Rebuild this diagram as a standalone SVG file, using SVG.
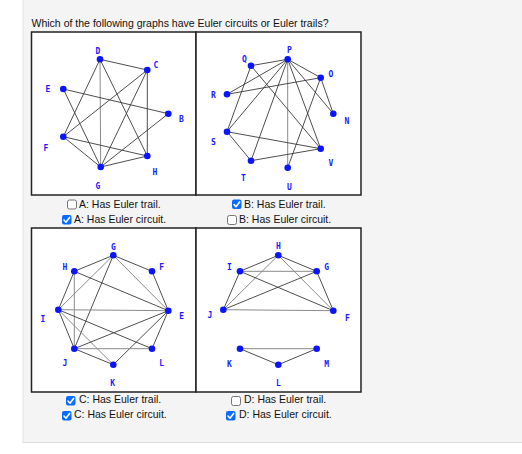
<svg xmlns="http://www.w3.org/2000/svg" width="522" height="454" viewBox="0 0 522 454">
<style>
.bg{fill:#f4f4f4}
.frame{fill:#fff;stroke:#222;stroke-width:1.5}
.e line{stroke:#3a3a3a;stroke-width:0.9}
.e line.g{stroke:#8a8a8a;stroke-width:1}
.n circle{fill:#0a14ff}
.n text{font-family:"DejaVu Sans Mono","Liberation Mono",monospace;font-weight:bold;font-size:8px;fill:#1a1aff;text-anchor:middle}
.t{font-family:"Liberation Sans",Arial,sans-serif;font-size:10.5px;fill:#111}
.cb{fill:#fff;stroke:#767676;stroke-width:1}
.ck{fill:#0a6cff}
.mk{fill:none;stroke:#fff;stroke-width:1.6;stroke-linecap:round;stroke-linejoin:round}
</style>
<defs>
<g id="chk"><rect class="ck" x="0" y="0" width="9.5" height="9.5" rx="2"/><path class="mk" d="M2,5 L4,7.2 L7.6,2.4"/></g>
<rect id="unc" class="cb" x="0.5" y="0.5" width="9" height="9" rx="2"/>
</defs>
<rect x="0" y="0" width="522" height="454" fill="#fff"/>
<rect class="bg" x="23" y="0" width="499" height="442.5"/>
<line x1="23" y1="0" x2="23" y2="443" stroke="#e2e2e2"/>
<line x1="23" y1="442.5" x2="522" y2="442.5" stroke="#dcdcdc"/>
<text class="t" x="31.5" y="27" textLength="297" lengthAdjust="spacingAndGlyphs">Which of the following graphs have Euler circuits or Euler trails?</text>

<g id="frames">
<rect class="frame" x="31.5" y="32" width="164.5" height="163"/>
<rect class="frame" x="196" y="32" width="165" height="163"/>
<rect class="frame" x="31.5" y="228" width="164.5" height="164"/>
<rect class="frame" x="196" y="228" width="165" height="164"/>
</g>

<g id="connectors" class="e">
<!-- Graph A -->
<line x1="100" y1="59.3" x2="147.3" y2="70"/>
<line class="g" x1="100" y1="59.3" x2="100.7" y2="167"/>
<line x1="100" y1="59.3" x2="63.3" y2="136.7"/>
<line x1="100" y1="59.3" x2="147.3" y2="156"/>
<line x1="147.3" y1="70" x2="63.3" y2="136.7"/>
<line x1="147.3" y1="70" x2="147.3" y2="156"/>
<line x1="147.3" y1="70" x2="100.7" y2="167"/>
<line x1="63.3" y1="89" x2="168.3" y2="113.7"/>
<line x1="63.3" y1="89" x2="100.7" y2="167"/>
<line x1="168.3" y1="113.7" x2="100.7" y2="167"/>
<line x1="63.3" y1="136.7" x2="100.7" y2="167"/>
<line x1="63.3" y1="136.7" x2="147.3" y2="156"/>
<line x1="100.7" y1="167" x2="147.3" y2="156"/>
<!-- Graph B -->
<line x1="287.7" y1="59.3" x2="251" y2="65.7"/>
<line x1="287.7" y1="59.3" x2="320.7" y2="77.7"/>
<line x1="287.7" y1="59.3" x2="333.3" y2="113.7"/>
<line x1="287.7" y1="59.3" x2="320.7" y2="148.7"/>
<line class="g" x1="287.7" y1="59.3" x2="287.7" y2="167.7"/>
<line x1="287.7" y1="59.3" x2="251" y2="160.7"/>
<line x1="287.7" y1="59.3" x2="227" y2="131.7"/>
<line x1="287.7" y1="59.3" x2="227" y2="94.3"/>
<line x1="251" y1="65.7" x2="227" y2="131.7"/>
<line x1="251" y1="65.7" x2="320.7" y2="148.7"/>
<line x1="227" y1="94.3" x2="320.7" y2="77.7"/>
<line x1="320.7" y1="77.7" x2="333.3" y2="113.7"/>
<line x1="320.7" y1="77.7" x2="287.7" y2="167.7"/>
<line x1="227" y1="131.7" x2="320.7" y2="148.7"/>
<line x1="227" y1="131.7" x2="251" y2="160.7"/>
<line x1="251" y1="160.7" x2="320.7" y2="148.7"/>
<!-- Graph C -->
<line x1="113.3" y1="255.3" x2="74.3" y2="271.3"/>
<line x1="113.3" y1="255.3" x2="152" y2="271.3"/>
<line class="g" x1="113.3" y1="255.3" x2="58.3" y2="309.7"/>
<line x1="113.3" y1="255.3" x2="74.3" y2="348.7"/>
<line class="g" x1="113.3" y1="255.3" x2="168.3" y2="310.7"/>
<line x1="74.3" y1="271.3" x2="58.3" y2="309.7"/>
<line class="g" x1="74.3" y1="271.3" x2="74.3" y2="348.7"/>
<line x1="74.3" y1="271.3" x2="168.3" y2="310.7"/>
<line x1="152" y1="271.3" x2="168.3" y2="310.7"/>
<line class="g" x1="58.3" y1="309.7" x2="168.3" y2="310.7"/>
<line x1="58.3" y1="309.7" x2="152" y2="348.7"/>
<line class="g" x1="58.3" y1="309.7" x2="113.3" y2="364.7"/>
<line x1="58.3" y1="309.7" x2="74.3" y2="348.7"/>
<line x1="168.3" y1="310.7" x2="74.3" y2="348.7"/>
<line x1="168.3" y1="310.7" x2="113.3" y2="364.7"/>
<line x1="168.3" y1="310.7" x2="152" y2="348.7"/>
<line class="g" x1="74.3" y1="348.7" x2="152" y2="348.7"/>
<line x1="74.3" y1="348.7" x2="113.3" y2="364.7"/>
<!-- Graph D -->
<line x1="278.3" y1="255.3" x2="240" y2="271.3"/>
<line x1="278.3" y1="255.3" x2="316.7" y2="271.3"/>
<line class="g" x1="278.3" y1="255.3" x2="223.3" y2="309.7"/>
<line class="g" x1="278.3" y1="255.3" x2="333.3" y2="310.7"/>
<line class="g" x1="240" y1="271.3" x2="316.7" y2="271.3"/>
<line x1="240" y1="271.3" x2="223.3" y2="309.7"/>
<line x1="240" y1="271.3" x2="333.3" y2="310.7"/>
<line x1="316.7" y1="271.3" x2="223.3" y2="309.7"/>
<line x1="316.7" y1="271.3" x2="333.3" y2="310.7"/>
<line class="g" x1="223.3" y1="309.7" x2="333.3" y2="310.7"/>
<line class="g" x1="240" y1="348.7" x2="316.7" y2="348.7"/>
<line x1="240" y1="348.7" x2="278.3" y2="364.7"/>
<line x1="278.3" y1="364.7" x2="316.7" y2="348.7"/>
</g>

<!-- Graph A nodes -->
<g id="A-D" class="n"><circle cx="100" cy="59.3" r="3.3"/><text x="98" y="54">D</text></g>
<g id="A-C" class="n"><circle cx="147.3" cy="70" r="3.3"/><text x="156" y="68">C</text></g>
<g id="A-E" class="n"><circle cx="63.3" cy="89" r="3.3"/><text x="48" y="91.5">E</text></g>
<g id="A-B" class="n"><circle cx="168.3" cy="113.7" r="3.3"/><text x="181.5" y="122">B</text></g>
<g id="A-F" class="n"><circle cx="63.3" cy="136.7" r="3.3"/><text x="46" y="151">F</text></g>
<g id="A-G" class="n"><circle cx="100.7" cy="167" r="3.3"/><text x="98" y="189">G</text></g>
<g id="A-H" class="n"><circle cx="147.3" cy="156" r="3.3"/><text x="155" y="174.5">H</text></g>
<!-- Graph B nodes -->
<g id="B-P" class="n"><circle cx="287.7" cy="59.3" r="3.3"/><text x="289.5" y="53">P</text></g>
<g id="B-Q" class="n"><circle cx="251" cy="65.7" r="3.3"/><text x="244.5" y="62">Q</text></g>
<g id="B-O" class="n"><circle cx="320.7" cy="77.7" r="3.3"/><text x="331" y="77">O</text></g>
<g id="B-R" class="n"><circle cx="227" cy="94.3" r="3.3"/><text x="213.5" y="98">R</text></g>
<g id="B-N" class="n"><circle cx="333.3" cy="113.7" r="3.3"/><text x="347" y="124">N</text></g>
<g id="B-S" class="n"><circle cx="227" cy="131.7" r="3.3"/><text x="213.5" y="145">S</text></g>
<g id="B-V" class="n"><circle cx="320.7" cy="148.7" r="3.3"/><text x="331" y="165.5">V</text></g>
<g id="B-T" class="n"><circle cx="251" cy="160.7" r="3.3"/><text x="243.5" y="180.5">T</text></g>
<g id="B-U" class="n"><circle cx="287.7" cy="167.7" r="3.3"/><text x="289.5" y="189.5">U</text></g>
<!-- Graph C nodes -->
<g id="C-G" class="n"><circle cx="113.3" cy="255.3" r="3.3"/><text x="113.3" y="250">G</text></g>
<g id="C-H" class="n"><circle cx="74.3" cy="271.3" r="3.3"/><text x="65" y="270">H</text></g>
<g id="C-F" class="n"><circle cx="152" cy="271.3" r="3.3"/><text x="161.7" y="270">F</text></g>
<g id="C-I" class="n"><circle cx="58.3" cy="309.7" r="3.3"/><text x="43" y="321.5">I</text></g>
<g id="C-E" class="n"><circle cx="168.3" cy="310.7" r="3.3"/><text x="181.7" y="319">E</text></g>
<g id="C-J" class="n"><circle cx="74.3" cy="348.7" r="3.3"/><text x="65" y="366">J</text></g>
<g id="C-L" class="n"><circle cx="152" cy="348.7" r="3.3"/><text x="161.7" y="366">L</text></g>
<g id="C-K" class="n"><circle cx="113.3" cy="364.7" r="3.3"/><text x="112.7" y="386">K</text></g>
<!-- Graph D nodes -->
<g id="D-H" class="n"><circle cx="278.3" cy="255.3" r="3.3"/><text x="278.3" y="249">H</text></g>
<g id="D-I" class="n"><circle cx="240" cy="271.3" r="3.3"/><text x="229.3" y="270">I</text></g>
<g id="D-G" class="n"><circle cx="316.7" cy="271.3" r="3.3"/><text x="326.7" y="270">G</text></g>
<g id="D-J" class="n"><circle cx="223.3" cy="309.7" r="3.3"/><text x="210" y="318">J</text></g>
<g id="D-F" class="n"><circle cx="333.3" cy="310.7" r="3.3"/><text x="347.5" y="321">F</text></g>
<g id="D-K" class="n"><circle cx="240" cy="348.7" r="3.3"/><text x="229.3" y="367">K</text></g>
<g id="D-M" class="n"><circle cx="316.7" cy="348.7" r="3.3"/><text x="326.7" y="367">M</text></g>
<g id="D-L" class="n"><circle cx="278.3" cy="364.7" r="3.3"/><text x="278.3" y="386">L</text></g>

<g id="answers">
<use href="#unc" x="67" y="199.5"/><text class="t" x="79" y="207.5">A: Has Euler trail.</text>
<use href="#chk" x="62" y="215"/><text class="t" x="74" y="222.5">A: Has Euler circuit.</text>
<use href="#chk" x="232" y="199.5"/><text class="t" x="244" y="207.5">B: Has Euler trail.</text>
<use href="#unc" x="227" y="215"/><text class="t" x="239" y="222.5">B: Has Euler circuit.</text>
<use href="#chk" x="66" y="396"/><text class="t" x="79" y="402.5">C: Has Euler trail.</text>
<use href="#chk" x="62" y="411"/><text class="t" x="74" y="417.5">C: Has Euler circuit.</text>
<use href="#unc" x="231" y="396"/><text class="t" x="244" y="402.5">D: Has Euler trail.</text>
<use href="#chk" x="226" y="411"/><text class="t" x="239" y="417.5">D: Has Euler circuit.</text>
</g>
</svg>
